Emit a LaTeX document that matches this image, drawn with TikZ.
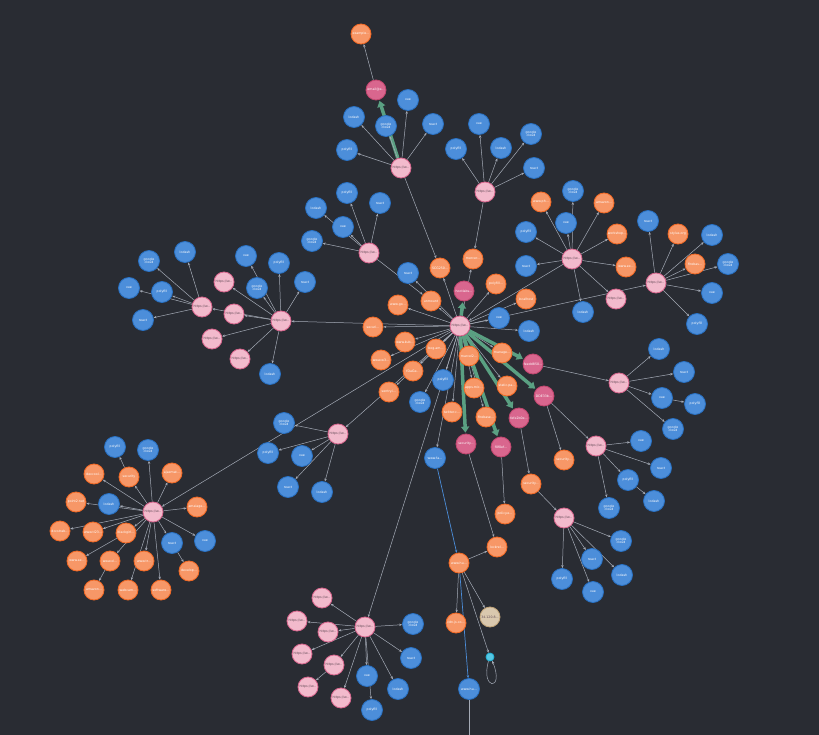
\documentclass[tikz,border=0pt]{standalone}
\usepackage{fontspec}
\setmainfont{DejaVu Sans}
\usetikzlibrary{arrows.meta}
\definecolor{bgc}{HTML}{292C33}
\definecolor{nblue}{HTML}{4C8EDA}
\definecolor{nblueb}{HTML}{2870C2}
\definecolor{norange}{HTML}{F79767}
\definecolor{norangeb}{HTML}{F36924}
\definecolor{npink}{HTML}{F2BACC}
\definecolor{npinkb}{HTML}{D9668E}
\definecolor{ndpink}{HTML}{D9668E}
\definecolor{ndpinkb}{HTML}{C2466F}
\definecolor{nbeige}{HTML}{D9C8AE}
\definecolor{nbeigeb}{HTML}{C0A378}
\definecolor{ncyan}{HTML}{57C7E3}
\definecolor{ncyanb}{HTML}{23B3D7}
\definecolor{edgec}{HTML}{A5ABB6}
\definecolor{greenc}{HTML}{5AA082}
\definecolor{pinktext}{HTML}{604A55}
\pgfdeclarelayer{bglayer}
\pgfdeclarelayer{edgelayer}
\pgfsetlayers{bglayer,edgelayer,main}
\tikzset{
  nd/.style={circle, inner sep=0pt, line width=0.8pt, align=center,
    font=\fontsize{3.2}{3.6}\selectfont},
  bl/.style={nd, fill=nblue, draw=nblueb, minimum size=21pt, text=white},
  or/.style={nd, fill=norange, draw=norangeb, minimum size=20pt, text=white},
  pk/.style={nd, fill=npink, draw=npinkb, minimum size=20pt, text=pinktext},
  dp/.style={nd, fill=ndpink, draw=ndpinkb, minimum size=20pt, text=white},
  bg/.style={nd, fill=nbeige, draw=nbeigeb, minimum size=20pt, text=pinktext},
  cy/.style={nd, fill=ncyan, draw=ncyanb, minimum size=8pt},
  ed/.style={draw=edgec, line width=0.5pt, -{Stealth[length=3pt,width=2.4pt]}},
  bed/.style={draw=nblue, line width=0.7pt, -{Stealth[length=3pt,width=2.4pt]}},
  gr/.style={draw=greenc, line width=3.5pt, -{Triangle[length=6pt,width=8pt]}, shorten >=1pt},
}
\begin{document}
\begin{tikzpicture}[x=1pt,y=-1pt]
\begin{pgfonlayer}{bglayer}
\fill[bgc] (0,0) rectangle (819,735);
\end{pgfonlayer}
\useasboundingbox (0,0) rectangle (819,735);

% central hub
\node[pk] (C) at (460,326) {https://w...};

% top cluster
\node[or] (ex) at (361,34) {example...};
\node[dp] (em) at (376,90) {email@e...};
\node[bl] (a1) at (408,100) {vue};
\node[bl] (a2) at (354,117) {lodash};
\node[bl] (a3) at (386,126) {google\\cloud};
\node[bl] (a4) at (433,124) {react};
\node[bl] (a5) at (347,150) {polyfill};
\node[pk] (A) at (401,168) {https://w...};

% hub B
\node[bl] (b1) at (479,124) {vue};
\node[bl] (b2) at (456,149) {polyfill};
\node[bl] (b3) at (501,148) {lodash};
\node[bl] (b4) at (531,134) {google\\cloud};
\node[bl] (b5) at (534,168) {react};
\node[pk] (B) at (485,192) {https://w...};

% hub C
\node[bl] (c1) at (347,193) {polyfill};
\node[bl] (c2) at (316,208) {lodash};
\node[bl] (c3) at (380,203) {react};
\node[bl] (c4) at (343,227) {vue};
\node[bl] (c5) at (312,241) {google\\cloud};
\node[pk] (Cc) at (369,253) {https://w...};

% hub D / E
\node[or] (d1) at (541,202) {www.ph...};
\node[bl] (d2) at (573,191) {google\\cloud};
\node[or] (d3) at (604,203) {amazon...};
\node[bl] (d4) at (566,223) {vue};
\node[or] (d5) at (617,234) {workshop...};
\node[bl] (d6) at (526,232) {polyfill};
\node[bl] (d7) at (526,266) {react};
\node[or] (d8) at (626,267) {www.ex...};
\node[pk] (E) at (616,299) {https://w...};
\node[bl] (d9) at (583,312) {lodash};
\node[pk] (D) at (572,259) {https://w...};

% hub F
\node[bl] (f1) at (648,221) {react};
\node[or] (f2) at (678,234) {stylus.org};
\node[bl] (f3) at (712,235) {lodash};
\node[or] (f4) at (695,264) {firebas...};
\node[bl] (f5) at (728,264) {google\\cloud};
\node[bl] (f6) at (712,293) {vue};
\node[bl] (f7) at (697,324) {polyfill};
\node[pk] (F) at (656,283) {https://w...};

% hub G / H
\node[bl] (g1) at (149,261) {google\\cloud};
\node[bl] (g2) at (185,252) {lodash};
\node[bl] (g3) at (129,288) {vue};
\node[bl] (g4) at (162,292) {polyfill};
\node[bl] (g5) at (143,320) {react};
\node[pk] (G) at (202,307) {https://w...};
\node[pk] (h1) at (224,282) {https://w...};
\node[pk] (h2) at (234,314) {https://w...};
\node[pk] (h3) at (212,339) {https://w...};
\node[pk] (h4) at (240,359) {https://w...};
\node[bl] (h5) at (246,256) {vue};
\node[bl] (h6) at (279,263) {polyfill};
\node[bl] (h7) at (257,288) {google\\cloud};
\node[bl] (h8) at (305,282) {react};
\node[bl] (h9) at (270,374) {lodash};
\node[pk] (H) at (281,321) {https://w...};

% around the central hub
\node[bl] (n1) at (408,273) {react};
\node[or] (scg) at (440,268) {SCG250...};
\node[or] (mer) at (473,259) {mercer...};
\node[dp] (hoo) at (464,291) {hootlabs...};
\node[or] (pol) at (496,284) {polyfill...};
\node[or] (loc) at (526,299) {localhost};
\node[or] (unm) at (431,301) {unmount};
\node[or] (o1) at (398,305) {www.go...};
\node[bl] (vue) at (499,318) {vue};
\node[bl] (lod) at (529,331) {lodash};
\node[or] (o2) at (373,327) {securi...};
\node[or] (o3) at (405,342) {www.kub...};
\node[or] (bog) at (436,349) {bog.am...};
\node[or] (o4) at (381,360) {www.w3...};
\node[or] (o5) at (413,371) {fDaGe...};
\node[or] (mar) at (469,356) {marcel2...};
\node[or] (man) at (502,353) {manage...};
\node[dp] (fee) at (533,364) {feedd850...};
\node[or] (o6) at (389,392) {sentry.i...};
\node[bl] (pf) at (443,380) {polyfill};
\node[or] (app) at (474,388) {apps.mic...};
\node[or] (sta) at (507,386) {static.pa...};
\node[dp] (dde) at (544,396) {DDE33b...};
\node[bl] (gc) at (420,402) {google\\cloud};
\node[or] (twi) at (452,412) {twitter.c...};
\node[or] (fir) at (486,417) {firebase...};
\node[dp] (fef) at (519,418) {fefe2b0e...};
\node[dp] (sec) at (466,444) {security...};
\node[dp] (f0f) at (501,447) {f0f0ef...};
\node[bl] (wfa) at (435,458) {www.fa...};
\node[or] (sc2) at (564,460) {security...};
\node[or] (o7) at (531,484) {security...};
\node[or] (o8) at (505,514) {policy.e...};
\node[or] (lck) at (497,547) {lockrel...};
\node[or] (whu) at (459,563) {www.hu...};
\node[or] (cdn) at (456,623) {cdn.js.co...};
\node[bg] (ip) at (490,617) {34.120.8...};
\node[cy] (cy) at (490,657) {};
\node[bl] (bhu) at (469,689) {www.hu...};
\coordinate (bot) at (469,736);

% hub I
\node[bl] (i1) at (659,349) {lodash};
\node[bl] (i2) at (684,372) {react};
\node[bl] (i3) at (662,398) {vue};
\node[bl] (i4) at (695,404) {polyfill};
\node[bl] (i5) at (673,429) {google\\cloud};
\node[pk] (I) at (619,383) {https://w...};

% hub J
\node[bl] (j1) at (641,441) {vue};
\node[bl] (j2) at (661,468) {react};
\node[bl] (j3) at (628,480) {polyfill};
\node[bl] (j4) at (654,501) {lodash};
\node[bl] (j5) at (609,508) {google\\cloud};
\node[pk] (J) at (596,446) {https://w...};

% hub K
\node[bl] (k1) at (621,541) {google\\cloud};
\node[bl] (k2) at (592,559) {react};
\node[bl] (k3) at (622,575) {lodash};
\node[bl] (k4) at (562,579) {polyfill};
\node[bl] (k5) at (593,592) {vue};
\node[pk] (K) at (564,518) {https://w...};

% hub L
\node[bl] (l1) at (284,423) {google\\cloud};
\node[bl] (l2) at (268,453) {polyfill};
\node[bl] (l3) at (302,456) {vue};
\node[bl] (l4) at (288,487) {react};
\node[bl] (l5) at (322,492) {lodash};
\node[pk] (L) at (338,434) {https://w...};

% hub M
\node[bl] (m1) at (115,447) {polyfill};
\node[bl] (m2) at (148,450) {google\\cloud};
\node[or] (m3) at (94,474) {devcool...};
\node[or] (m4) at (129,477) {security};
\node[or] (m5) at (172,473) {ajaxmat...};
\node[or] (m6) at (76,502) {point2.net};
\node[bl] (m7) at (109,504) {lodash};
\node[or] (m8) at (197,507) {amalage...};
\node[or] (m9) at (60,531) {docstrab...};
\node[or] (m10) at (93,532) {www.tl23...};
\node[or] (m11) at (126,533) {blackgirl...};
\node[bl] (m12) at (172,543) {react};
\node[bl] (m13) at (205,541) {vue};
\node[or] (m14) at (77,561) {www.se...};
\node[or] (m15) at (110,561) {www.ol...};
\node[or] (m16) at (144,561) {www.tr...};
\node[or] (m17) at (189,571) {develop...};
\node[or] (m18) at (94,590) {amazon...};
\node[or] (m19) at (128,590) {webcam...};
\node[or] (m20) at (161,590) {software...};
\node[pk] (M) at (153,512) {https://w...};

% hub N
\node[pk] (p1) at (322,598) {https://w...};
\node[pk] (p2) at (297,621) {https://w...};
\node[pk] (p3) at (328,632) {https://w...};
\node[pk] (p4) at (302,654) {https://w...};
\node[pk] (p5) at (334,665) {https://w...};
\node[pk] (p6) at (308,687) {https://w...};
\node[pk] (p7) at (341,698) {https://w...};
\node[bl] (q1) at (413,624) {google\\cloud};
\node[bl] (q2) at (411,658) {react};
\node[bl] (q3) at (367,676) {vue};
\node[bl] (q4) at (398,689) {lodash};
\node[bl] (q5) at (372,710) {polyfill};
\node[pk] (N) at (365,627) {https://w...};

\begin{pgfonlayer}{edgelayer}
% top cluster
\draw[gr] (A) -- (em);
\draw[ed] (em) -- (ex);
\foreach \t in {a1,a2,a3,a4,a5,scg} \draw[ed] (A) -- (\t);
\foreach \t in {b1,b2,b3,b4,b5,mer} \draw[ed] (B) -- (\t);
\foreach \t in {c1,c2,c3,c4,c5,unm} \draw[ed] (Cc) -- (\t);
\foreach \t in {d1,d2,d3,d4,d5,d6,d7,d8,d9,E} \draw[ed] (D) -- (\t);
\draw[ed] (D) -- (C);
\foreach \t in {f1,f2,f3,f4,f5,f6,f7} \draw[ed] (F) -- (\t);
\draw[ed] (C) -- (F);
\foreach \t in {g1,g2,g3,g4,g5} \draw[ed] (G) -- (\t);
\foreach \t in {h1,h2,h3,h4,h5,h6,h7,h8,h9,G} \draw[ed] (H) -- (\t);
\draw[ed] (C) -- (H);
% central neighbours
\foreach \t in {n1,scg,mer,pol,loc,unm,o1,vue,lod,o2,o3,bog,o4,o5,mar,man,o6,pf,app,sta,gc,twi,fir,wfa}
  \draw[ed] (C) -- (\t);
\draw[gr] (C) -- (hoo);
\foreach \t in {fee,dde,fef,f0f,sec} \draw[gr] (C) -- (\t);
\draw[ed] (fee) -- (I);
\draw[ed] (dde) -- (J);
\draw[ed] (dde) -- (sc2);
\draw[ed] (fef) -- (o7);
\draw[ed] (o7) -- (K);
\draw[ed] (f0f) -- (o8);
\draw[ed] (sec) -- (lck);
\draw[ed] (whu) -- (lck);
\draw[bed] (wfa) -- (whu);
\draw[ed] (whu) -- (cdn);
\draw[ed] (whu) -- (ip);
\draw[ed] (whu) -- (cy);
\draw[bed] (whu) -- (bhu);
\draw[ed] (cy.-110) .. controls (480,690) and (505,692) .. (cy.-60);
\draw[draw=edgec, line width=0.5pt] (bhu) -- (bot);
% hubs I J K
\foreach \t in {i1,i2,i3,i5} \draw[ed] (I) -- (\t);
\draw[ed] (i3) -- (i4);
\foreach \t in {j1,j2,j3,j5} \draw[ed] (J) -- (\t);
\draw[ed] (j3) -- (j4);
\foreach \t in {k1,k2,k3,k4,k5} \draw[ed] (K) -- (\t);
% hub L
\foreach \t in {l1,l2,l3,l4,l5} \draw[ed] (L) -- (\t);
\draw[ed] (C) -- (L);
% hub M
\foreach \t in {m2,m3,m4,m5,m6,m7,m8,m9,m10,m11,m12,m13,m15,m16,m19,m20} \draw[ed] (M) -- (\t);
\draw[ed] (m4) -- (m1);
\draw[ed] (m11) -- (m14);
\draw[ed] (m15) -- (m18);
\draw[ed] (m12) -- (m17);
\draw[ed] (C) -- (M);
% hub N
\foreach \t in {p1,p2,p3,p4,p5,p7,q1,q2,q3,q4,q5} \draw[ed] (N) -- (\t);
\draw[ed] (p5) -- (p6);
\draw[ed] (C) -- (N);
\end{pgfonlayer}
\end{tikzpicture}
\end{document}
